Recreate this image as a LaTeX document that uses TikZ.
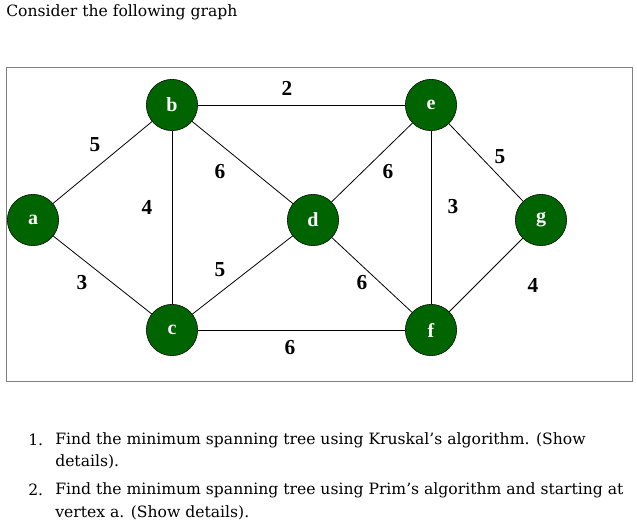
\documentclass[tikz,border=0pt]{standalone}
\usepackage{fontspec}
\setmainfont{Liberation Serif}
\newfontfamily\txtfont{DejaVu Serif}
\definecolor{vgreen}{RGB}{0,100,0}
\begin{document}
\begin{tikzpicture}[x=0.75pt, y=-0.75pt,
    vertex/.style={circle, fill=vgreen, draw=black, minimum size=38.5pt, inner sep=0pt,
        text=white, font=\bfseries\fontsize{15}{15}\selectfont},
    wt/.style={font=\bfseries\fontsize{16}{16}\selectfont},
    txt/.style={anchor=west, inner sep=0pt, font=\txtfont\fontsize{11.7}{14}\selectfont}]
    \useasboundingbox (0,0) rectangle (637,526);

    % heading and frame
    \node[txt] (head) at (6,12) {Consider the following graph};
    \draw[gray] (6,67) rectangle (632,381);

    % vertices
    \node[vertex] (a) at (33,220) {a};
    \node[vertex] (b) at (172,105) {b};
    \node[vertex] (c) at (172,330) {c};
    \node[vertex] (d) at (313,220) {d};
    \node[vertex] (e) at (431,105) {e};
    \node[vertex] (f) at (431,330) {f};
    \node[vertex] (g) at (541,220) {g};

    % edges
    \draw[semithick] (a) -- (b);
    \draw[semithick] (a) -- (c);
    \draw[semithick] (b) -- (c);
    \draw[semithick] (b) -- (d);
    \draw[semithick] (b) -- (e);
    \draw[semithick] (c) -- (d);
    \draw[semithick] (c) -- (f);
    \draw[semithick] (d) -- (e);
    \draw[semithick] (d) -- (f);
    \draw[semithick] (e) -- (f);
    \draw[semithick] (e) -- (g);
    \draw[semithick] (f) -- (g);

    % weights
    \node[wt] (wab) at (95,145) {5};
    \node[wt] (wac) at (82,283) {3};
    \node[wt] (wbc) at (147,207) {4};
    \node[wt] (wbe) at (287,88) {2};
    \node[wt] (wbd) at (220,172) {6};
    \node[wt] (wcd) at (220,270) {5};
    \node[wt] (wde) at (388,172) {6};
    \node[wt] (wdf) at (362,283) {6};
    \node[wt] (wef) at (453,207) {3};
    \node[wt] (weg) at (500,157) {5};
    \node[wt] (wfg) at (533,285) {4};
    \node[wt] (wcf) at (290,348) {6};

    % questions
    \node[txt] (n1) at (28,440) {1.};
    \node[txt] (q1) at (55,440) {Find the minimum spanning tree using Kruskal’s algorithm. (Show};
    \node[txt] (q1b) at (55,462) {details).};
    \node[txt] (n2) at (28,490) {2.};
    \node[txt] (q2) at (55,490) {Find the minimum spanning tree using Prim’s algorithm and starting at};
    \node[txt] (q2b) at (55,513) {vertex a. (Show details).};
\end{tikzpicture}
\end{document}
